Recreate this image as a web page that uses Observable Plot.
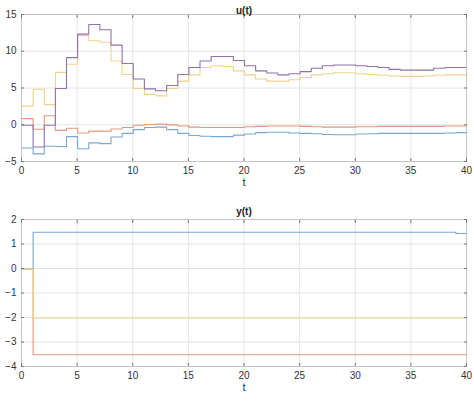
<!DOCTYPE html>
<html><head><meta charset="utf-8">
<script src="https://cdn.jsdelivr.net/npm/d3@7"></script>
<script src="https://cdn.jsdelivr.net/npm/@observablehq/plot@0.6"></script>
<style>
body{margin:0;background:#fff;}
svg{display:block;}
</style></head><body><div id="chart"></div>
<script>
// time steps (stairs, value holds on [t, t+1))
const time = [0,1,2,3,4,5,6,7,8,9,10,11,12,13,14,15,16,17,18,19,20,21,22,23,24,25,26,27,28,29,30,31,32,33,34,35,36,37,38,39,40];

// u(t) components
const u1 = [-3.1,-3.9,-2.85,-2.9,-1.55,-3.2,-2.4,-2.5,-1.6,-1.1,-0.6,-0.3,-0.25,-0.6,-1.1,-1.4,-1.5,-1.55,-1.55,-1.35,-1.2,-1.0,-0.95,-0.95,-1.05,-1.1,-1.15,-1.25,-1.3,-1.3,-1.2,-1.15,-1.1,-1.1,-1.1,-1.1,-1.1,-1.1,-1.05,-1.0,-1.0];
const u2 = [0.9,-0.55,1.3,-0.7,-0.4,-1.05,-0.8,-0.8,-0.5,-0.3,0.0,0.1,0.15,0.05,-0.1,-0.25,-0.3,-0.3,-0.3,-0.3,-0.2,-0.15,-0.1,-0.1,-0.1,-0.15,-0.2,-0.25,-0.25,-0.25,-0.2,-0.2,-0.15,-0.15,-0.15,-0.15,-0.15,-0.15,-0.1,-0.1,-0.1];
const u3 = [2.6,4.9,2.8,7.2,8.3,12.2,11.5,11.3,8.75,6.9,5.0,4.2,4.0,5.0,6.0,6.85,7.85,8.1,8.0,7.4,6.85,6.3,6.0,6.0,6.2,6.5,6.85,7.0,7.15,7.15,7.0,6.9,6.8,6.7,6.65,6.65,6.7,6.8,6.85,6.85,6.85];
const u4 = [0,-2.95,0,5.0,9.2,12.4,13.7,13.0,10.9,8.4,6.3,4.95,4.7,5.4,6.9,7.85,8.75,9.35,9.35,8.8,8.1,7.4,7.1,6.85,7.0,7.3,7.75,8.1,8.2,8.2,8.1,8.0,7.85,7.6,7.5,7.5,7.5,7.75,7.85,7.85,7.85];

// y(t) components (breakpoints of the stairs)
const yTime = [0,1,39,40];
const y1 = [0,1.5,1.45,1.45];
const y2 = [0,-3.5,-3.5,-3.5];
const y3 = [0,-2,-2,-2];

// ticks
const xTicks = [0,5,10,15,20,25,30,35,40];
const uTicks = [-5,0,5,10,15];
const yTicks = [-4,-3,-2,-1,0,1,2];

const colors = ["#79a7d6","#e3977a","#efd38c","#8e72a8"];
const font = "'Liberation Sans', Arial, Helvetica, sans-serif";

function table(ts, arrs){
  const rows = [];
  arrs.forEach((a,i)=> a.forEach((v,j)=> rows.push({t: ts[j], v, s: "s"+(i+1)})));
  return rows;
}

const uData = table(time, [u1,u2,u3,u4]);
const yData = table(yTime, [y1,y2,y3]);

function panel(data, series, yDomain, yT, title, opts){
  return Plot.plot({
    width: 474, height: opts.height,
    marginLeft: 21, marginRight: 8, marginTop: opts.mt, marginBottom: opts.height - opts.mt - opts.ph,
    x: {domain: [0,40], ticks: xTicks},
    y: {domain: yDomain, ticks: yT},
    color: {domain: series, range: colors.slice(0, series.length)},
    style: {fontFamily: font, fontSize: "10px", color: "#333", background: "#fff"},
    marks: [
      Plot.gridX(xTicks, {stroke: "#e4e4e4", strokeOpacity: 1}),
      Plot.gridY(yT, {stroke: "#e4e4e4", strokeOpacity: 1}),
      Plot.line(data, {x: "t", y: "v", z: "s", stroke: "s", curve: "step-after", strokeWidth: 1.1, dx: 0.5, dy: 0.5}),
      Plot.frame({stroke: "#c4c4c4"}),
      Plot.axisX(xTicks, {anchor: "bottom", tickSize: -3, tickPadding: 8, label: null, stroke: "#777"}),
      Plot.axisX(xTicks, {anchor: "top", tickSize: -3, text: null, label: null, stroke: "#777"}),
      Plot.axisY(yT, {anchor: "left", tickSize: -3, tickPadding: 8, label: null, stroke: "#777"}),
      Plot.axisY(yT, {anchor: "right", tickSize: -3, text: null, label: null, stroke: "#777"}),
      Plot.text([title], {frameAnchor: "top", dy: opts.titleDy, fontWeight: "bold", fontSize: 10, fill: "#222"}),
      Plot.text(["t"], {frameAnchor: "bottom", dy: 24, fontSize: 11, fill: "#333"})
    ]
  });
}

const el = document.getElementById("chart");
el.append(panel(uData, ["s1","s2","s3","s4"], [-5,15], uTicks, "u(t)", {height: 200, mt: 14, ph: 147, titleDy: -8}));
el.append(panel(yData, ["s1","s2","s3"], [-4,2], yTicks, "y(t)", {height: 216, mt: 19, ph: 147, titleDy: -12}));
</script></body></html>
